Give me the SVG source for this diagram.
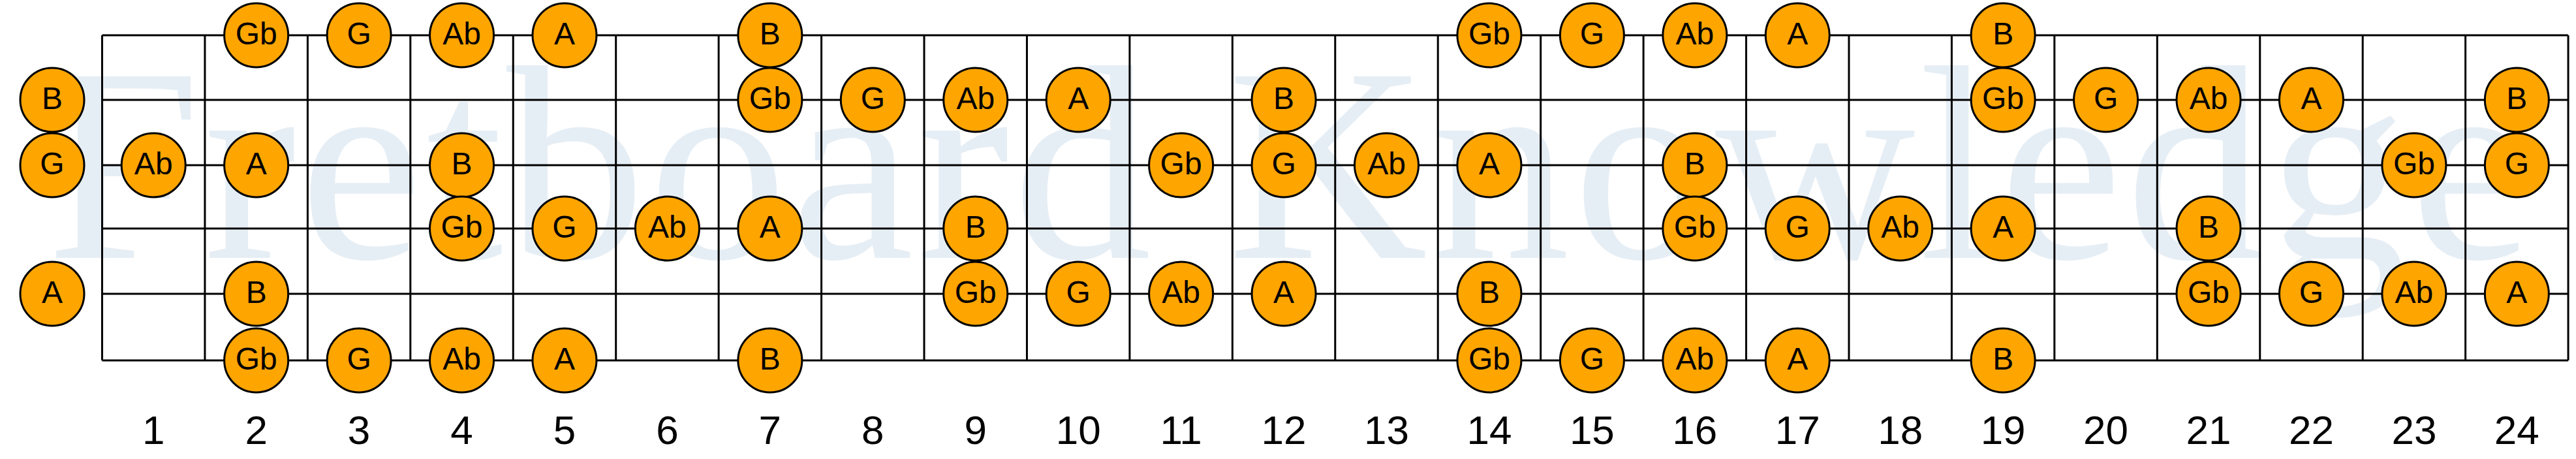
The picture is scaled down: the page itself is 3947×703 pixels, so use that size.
<svg xmlns="http://www.w3.org/2000/svg" width="3947" height="703" viewBox="0 0 3947 703">
<style>
.wm{font-family:"Liberation Serif","Times New Roman",serif;font-size:425px;fill:#e6eef5}
.grid{stroke:#000;stroke-width:3;fill:none}
.note circle{fill:#ffa500;stroke:#000;stroke-width:3}
.note text{font-family:"Liberation Sans",Arial,sans-serif;font-size:48px;text-anchor:middle;fill:#000}
.num{font-family:"Liberation Sans",Arial,sans-serif;font-size:62px;text-anchor:middle;fill:#000}
</style>
<rect width="3947" height="703" fill="#fff"/>
<text id="watermark" class="wm" x="71" y="395" textLength="3810" lengthAdjust="spacing">Fretboard Knowledge</text>
<g id="connectors" class="grid">
<path d="M156.5 54H3935M156.5 153H3935M156.5 253H3935M156.5 350H3935M156.5 450H3935M156.5 552H3935"/>
<path d="M156.5 54V552M313.94 54V552M471.38 54V552M628.82 54V552M786.26 54V552M943.7 54V552M1101.14 54V552M1258.58 54V552M1416.02 54V552M1573.46 54V552M1730.9 54V552M1888.34 54V552M2045.78 54V552M2203.22 54V552M2360.66 54V552M2518.1 54V552M2675.54 54V552M2832.98 54V552M2990.42 54V552M3147.86 54V552M3305.3 54V552M3462.74 54V552M3620.18 54V552M3777.62 54V552M3935.06 54V552"/>
</g>
<g id="numbers">
<text class="num" x="235.22" y="680">1</text>
<text class="num" x="392.66" y="680">2</text>
<text class="num" x="550.1" y="680">3</text>
<text class="num" x="707.54" y="680">4</text>
<text class="num" x="864.98" y="680">5</text>
<text class="num" x="1022.42" y="680">6</text>
<text class="num" x="1179.86" y="680">7</text>
<text class="num" x="1337.3" y="680">8</text>
<text class="num" x="1494.74" y="680">9</text>
<text class="num" x="1652.18" y="680">10</text>
<text class="num" x="1809.62" y="680">11</text>
<text class="num" x="1967.06" y="680">12</text>
<text class="num" x="2124.5" y="680">13</text>
<text class="num" x="2281.94" y="680">14</text>
<text class="num" x="2439.38" y="680">15</text>
<text class="num" x="2596.82" y="680">16</text>
<text class="num" x="2754.26" y="680">17</text>
<text class="num" x="2911.7" y="680">18</text>
<text class="num" x="3069.14" y="680">19</text>
<text class="num" x="3226.58" y="680">20</text>
<text class="num" x="3384.02" y="680">21</text>
<text class="num" x="3541.46" y="680">22</text>
<text class="num" x="3698.9" y="680">23</text>
<text class="num" x="3856.34" y="680">24</text>
</g>
<g id="notes">
<g id="s1-f2" class="note" transform="translate(392.66,54)"><circle r="49"/><text y="14">Gb</text></g>
<g id="s1-f3" class="note" transform="translate(550.1,54)"><circle r="49"/><text y="14">G</text></g>
<g id="s1-f4" class="note" transform="translate(707.54,54)"><circle r="49"/><text y="14">Ab</text></g>
<g id="s1-f5" class="note" transform="translate(864.98,54)"><circle r="49"/><text y="14">A</text></g>
<g id="s1-f7" class="note" transform="translate(1179.86,54)"><circle r="49"/><text y="14">B</text></g>
<g id="s1-f14" class="note" transform="translate(2281.94,54)"><circle r="49"/><text y="14">Gb</text></g>
<g id="s1-f15" class="note" transform="translate(2439.38,54)"><circle r="49"/><text y="14">G</text></g>
<g id="s1-f16" class="note" transform="translate(2596.82,54)"><circle r="49"/><text y="14">Ab</text></g>
<g id="s1-f17" class="note" transform="translate(2754.26,54)"><circle r="49"/><text y="14">A</text></g>
<g id="s1-f19" class="note" transform="translate(3069.14,54)"><circle r="49"/><text y="14">B</text></g>

<g id="s2-f0" class="note" transform="translate(80,153)"><circle r="49"/><text y="14">B</text></g>
<g id="s2-f7" class="note" transform="translate(1179.86,153)"><circle r="49"/><text y="14">Gb</text></g>
<g id="s2-f8" class="note" transform="translate(1337.3,153)"><circle r="49"/><text y="14">G</text></g>
<g id="s2-f9" class="note" transform="translate(1494.74,153)"><circle r="49"/><text y="14">Ab</text></g>
<g id="s2-f10" class="note" transform="translate(1652.18,153)"><circle r="49"/><text y="14">A</text></g>
<g id="s2-f12" class="note" transform="translate(1967.06,153)"><circle r="49"/><text y="14">B</text></g>
<g id="s2-f19" class="note" transform="translate(3069.14,153)"><circle r="49"/><text y="14">Gb</text></g>
<g id="s2-f20" class="note" transform="translate(3226.58,153)"><circle r="49"/><text y="14">G</text></g>
<g id="s2-f21" class="note" transform="translate(3384.02,153)"><circle r="49"/><text y="14">Ab</text></g>
<g id="s2-f22" class="note" transform="translate(3541.46,153)"><circle r="49"/><text y="14">A</text></g>
<g id="s2-f24" class="note" transform="translate(3856.34,153)"><circle r="49"/><text y="14">B</text></g>

<g id="s3-f0" class="note" transform="translate(80,253)"><circle r="49"/><text y="14">G</text></g>
<g id="s3-f1" class="note" transform="translate(235.22,253)"><circle r="49"/><text y="14">Ab</text></g>
<g id="s3-f2" class="note" transform="translate(392.66,253)"><circle r="49"/><text y="14">A</text></g>
<g id="s3-f4" class="note" transform="translate(707.54,253)"><circle r="49"/><text y="14">B</text></g>
<g id="s3-f11" class="note" transform="translate(1809.62,253)"><circle r="49"/><text y="14">Gb</text></g>
<g id="s3-f12" class="note" transform="translate(1967.06,253)"><circle r="49"/><text y="14">G</text></g>
<g id="s3-f13" class="note" transform="translate(2124.5,253)"><circle r="49"/><text y="14">Ab</text></g>
<g id="s3-f14" class="note" transform="translate(2281.94,253)"><circle r="49"/><text y="14">A</text></g>
<g id="s3-f16" class="note" transform="translate(2596.82,253)"><circle r="49"/><text y="14">B</text></g>
<g id="s3-f23" class="note" transform="translate(3698.9,253)"><circle r="49"/><text y="14">Gb</text></g>
<g id="s3-f24" class="note" transform="translate(3856.34,253)"><circle r="49"/><text y="14">G</text></g>

<g id="s4-f4" class="note" transform="translate(707.54,350)"><circle r="49"/><text y="14">Gb</text></g>
<g id="s4-f5" class="note" transform="translate(864.98,350)"><circle r="49"/><text y="14">G</text></g>
<g id="s4-f6" class="note" transform="translate(1022.42,350)"><circle r="49"/><text y="14">Ab</text></g>
<g id="s4-f7" class="note" transform="translate(1179.86,350)"><circle r="49"/><text y="14">A</text></g>
<g id="s4-f9" class="note" transform="translate(1494.74,350)"><circle r="49"/><text y="14">B</text></g>
<g id="s4-f16" class="note" transform="translate(2596.82,350)"><circle r="49"/><text y="14">Gb</text></g>
<g id="s4-f17" class="note" transform="translate(2754.26,350)"><circle r="49"/><text y="14">G</text></g>
<g id="s4-f18" class="note" transform="translate(2911.7,350)"><circle r="49"/><text y="14">Ab</text></g>
<g id="s4-f19" class="note" transform="translate(3069.14,350)"><circle r="49"/><text y="14">A</text></g>
<g id="s4-f21" class="note" transform="translate(3384.02,350)"><circle r="49"/><text y="14">B</text></g>

<g id="s5-f0" class="note" transform="translate(80,450)"><circle r="49"/><text y="14">A</text></g>
<g id="s5-f2" class="note" transform="translate(392.66,450)"><circle r="49"/><text y="14">B</text></g>
<g id="s5-f9" class="note" transform="translate(1494.74,450)"><circle r="49"/><text y="14">Gb</text></g>
<g id="s5-f10" class="note" transform="translate(1652.18,450)"><circle r="49"/><text y="14">G</text></g>
<g id="s5-f11" class="note" transform="translate(1809.62,450)"><circle r="49"/><text y="14">Ab</text></g>
<g id="s5-f12" class="note" transform="translate(1967.06,450)"><circle r="49"/><text y="14">A</text></g>
<g id="s5-f14" class="note" transform="translate(2281.94,450)"><circle r="49"/><text y="14">B</text></g>
<g id="s5-f21" class="note" transform="translate(3384.02,450)"><circle r="49"/><text y="14">Gb</text></g>
<g id="s5-f22" class="note" transform="translate(3541.46,450)"><circle r="49"/><text y="14">G</text></g>
<g id="s5-f23" class="note" transform="translate(3698.9,450)"><circle r="49"/><text y="14">Ab</text></g>
<g id="s5-f24" class="note" transform="translate(3856.34,450)"><circle r="49"/><text y="14">A</text></g>

<g id="s6-f2" class="note" transform="translate(392.66,552)"><circle r="49"/><text y="14">Gb</text></g>
<g id="s6-f3" class="note" transform="translate(550.1,552)"><circle r="49"/><text y="14">G</text></g>
<g id="s6-f4" class="note" transform="translate(707.54,552)"><circle r="49"/><text y="14">Ab</text></g>
<g id="s6-f5" class="note" transform="translate(864.98,552)"><circle r="49"/><text y="14">A</text></g>
<g id="s6-f7" class="note" transform="translate(1179.86,552)"><circle r="49"/><text y="14">B</text></g>
<g id="s6-f14" class="note" transform="translate(2281.94,552)"><circle r="49"/><text y="14">Gb</text></g>
<g id="s6-f15" class="note" transform="translate(2439.38,552)"><circle r="49"/><text y="14">G</text></g>
<g id="s6-f16" class="note" transform="translate(2596.82,552)"><circle r="49"/><text y="14">Ab</text></g>
<g id="s6-f17" class="note" transform="translate(2754.26,552)"><circle r="49"/><text y="14">A</text></g>
<g id="s6-f19" class="note" transform="translate(3069.14,552)"><circle r="49"/><text y="14">B</text></g>
</g>
</svg>
